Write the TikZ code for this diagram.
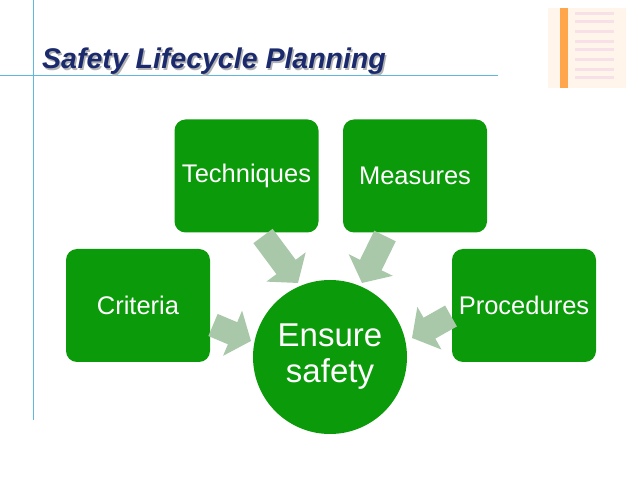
\documentclass[tikz,border=0pt]{standalone}
\usepackage{fontspec}
\setmainfont{Liberation Sans}
\usetikzlibrary{arrows.meta}
\definecolor{gbox}{HTML}{0A9A0A}
\definecolor{sage}{HTML}{A9C8A9}
\definecolor{navy}{HTML}{1A2A6C}
\definecolor{rule}{HTML}{5FB8E0}
\tikzset{
  box/.style={draw=none,fill=gbox,rounded corners=11pt,minimum width=144pt,minimum height=113pt,text=white,font=\fontsize{25.5}{30}\selectfont},
  blk/.style={draw=sage,line width=24pt,-{Triangle[width=48pt,length=20pt]}},
}
\begin{document}
\begin{tikzpicture}[x=1pt,y=-1pt]
\useasboundingbox (0,0) rectangle (638,478);
\draw[rule,line width=0.8pt] (33,0) -- (33,420);
\draw[rule,line width=0.8pt] (0,75) -- (498,75);
% thumbnail
\fill[orange!8] (548,8) rectangle (626,88);
\fill[orange!70] (560,8) rectangle (568,88);
\foreach \y in {12,20,30,40,48,58,68,76}{\fill[purple!12] (575,\y) rectangle (614,\y+3);}
\node[anchor=base west,font=\fontsize{28.5}{32}\selectfont\bfseries\itshape,text=gray!60,inner sep=0pt] (tsh) at (43.5,70.5) {Safety Lifecycle Planning};
\node[anchor=base west,font=\fontsize{28.5}{32}\selectfont\bfseries\itshape,text=navy,inner sep=0pt] (title) at (42,69) {Safety Lifecycle Planning};
\node[box] (tech) at (246.5,176) {Techniques};
\node[box] (meas) at (415,176) {Measures};
\node[box] (crit) at (138,305.5) {Criteria};
\node[box] (proc) at (524,305.5) {Procedures};
\node[circle,fill=gbox,minimum size=154pt,inner sep=0pt,text=white,align=center,font=\fontsize{33}{36}\selectfont] (ens) at (330,357) {Ensure\\safety};
\coordinate (a1) at (263,236); \coordinate (b1) at (298,283);
\coordinate (a2) at (385,236); \coordinate (b2) at (362,283);
\coordinate (a3) at (213,325); \coordinate (b3) at (251,341);
\coordinate (a4) at (451,316); \coordinate (b4) at (412,338);
\draw[blk] (a1) -- (b1);
\draw[blk] (a2) -- (b2);
\draw[blk] (a3) -- (b3);
\draw[blk] (a4) -- (b4);
\end{tikzpicture}
\end{document}
